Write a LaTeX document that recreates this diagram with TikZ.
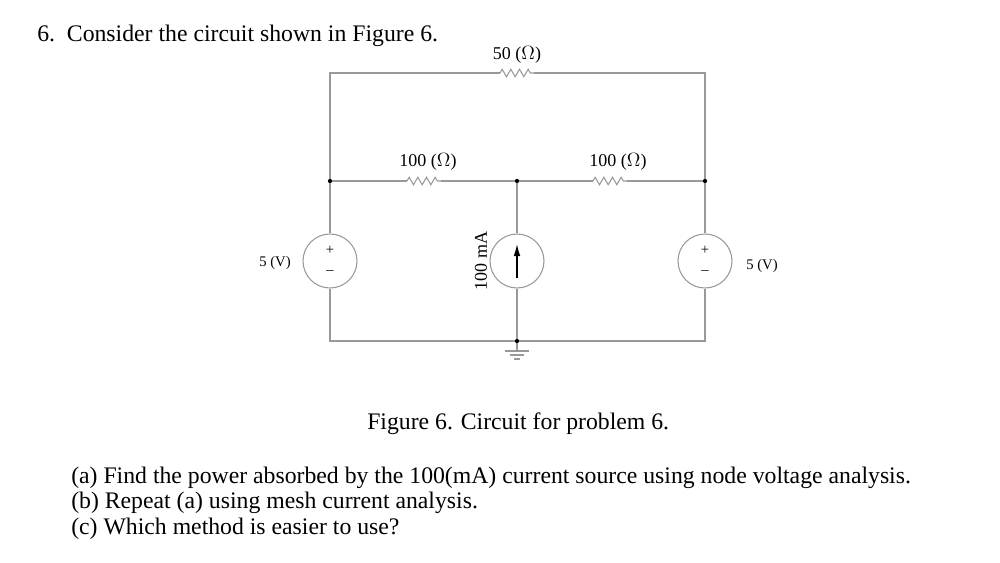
\documentclass[tikz,border=0pt]{standalone}
\usepackage{fontspec}
\setmainfont{Liberation Serif}
\usetikzlibrary{decorations.pathmorphing,arrows.meta}
\begin{document}
\begin{tikzpicture}[x=0.75pt,y=-0.75pt,
  wire/.style={draw=black!40,line width=0.8pt},
  res/.style={wire,decorate,decoration={zigzag,segment length=6.5pt,amplitude=2.8pt}},
  src/.style={circle,draw=black!40,line width=0.8pt,minimum size=40.5pt,inner sep=0pt},
  dot/.style={circle,fill=black,inner sep=0pt,minimum size=3.2pt},
  lbl/.style={font=\fontsize{13.5}{15}\selectfont},
  slbl/.style={font=\fontsize{11}{12}\selectfont},
  txt/.style={font=\fontsize{17.8}{21}\selectfont,anchor=base west,inner sep=0pt}]
\useasboundingbox (0,0) rectangle (1000,562);
\node[txt] (t1) at (37,41) {6.\ \ Consider the circuit shown in Figure 6.};
\node[txt] (t2) at (367,429) {Figure 6. Circuit for problem 6.};
\node[txt] (t3) at (71,483) {(a) Find the power absorbed by the 100(mA) current source using node voltage analysis.};
\node[txt] (t4) at (71,508) {(b) Repeat (a) using mesh current analysis.};
\node[txt] (t5) at (71,534) {(c) Which method is easier to use?};
% nodes
\coordinate (TL) at (330,73); \coordinate (TR) at (705,73);
\node[dot] (ML) at (330,181) {}; \node[dot] (MM) at (517,181) {}; \node[dot] (MR) at (705,181) {};
\coordinate (BL) at (330,341); \node[dot] (BM) at (517,341) {}; \coordinate (BR) at (705,341);
\node[src] (VL) at (330,261) {};
\node[src] (VR) at (705,261) {};
\node[src] (IS) at (517,261) {};
% top wire with 50 ohm
\coordinate (r1a) at (500,73); \coordinate (r1b) at (534,73);
\draw[wire] (ML) -- (TL) -- (r1a); \draw[res] (r1a) -- (r1b); \draw[wire] (r1b) -- (TR) -- (MR);
\node[lbl] (l50) at (517,55) {50 ($\Omega$)};
% middle
\coordinate (r2a) at (407,181); \coordinate (r2b) at (441,181);
\coordinate (r3a) at (593,181); \coordinate (r3b) at (627,181);
\draw[wire] (ML) -- (r2a); \draw[res] (r2a) -- (r2b); \draw[wire] (r2b) -- (MM) -- (r3a);
\draw[res] (r3a) -- (r3b); \draw[wire] (r3b) -- (MR);
\node[lbl] (l100a) at (428,162) {100 ($\Omega$)};
\node[lbl] (l100b) at (618,162) {100 ($\Omega$)};
% verticals
\draw[wire] (ML) -- (VL.north); \draw[wire] (VL.south) -- (BL) -- (BM) -- (BR) -- (VR.south);
\draw[wire] (MR) -- (VR.north);
\draw[wire] (MM) -- (IS.north); \draw[wire] (IS.south) -- (BM);
% source signs
\node[slbl,inner sep=0pt] (pl) at (330,250) {+}; \node[slbl,inner sep=0pt] (ml) at (330,273) {--};
\node[slbl,inner sep=0pt] (pr) at (705,250) {+}; \node[slbl,inner sep=0pt] (mr) at (705,273) {--};
\node[slbl] (vl) at (275,263) {5 (V)};
\node[slbl] (vr) at (762,266) {5 (V)};
\coordinate (a1) at (517,278); \coordinate (a2) at (517,244);
\draw[line width=1pt,-{Latex[length=9pt,width=5pt]}] (a1) -- (a2);
\node[lbl,rotate=90] (li) at (481,261) {100 mA};
% ground
\coordinate (g0) at (517,351);
\draw[wire] (BM) -- (g0);
\draw[wire] (505,351) -- (529,351); \draw[wire] (510,355) -- (524,355); \draw[wire] (514,359) -- (520,359);
\end{tikzpicture}
\end{document}
